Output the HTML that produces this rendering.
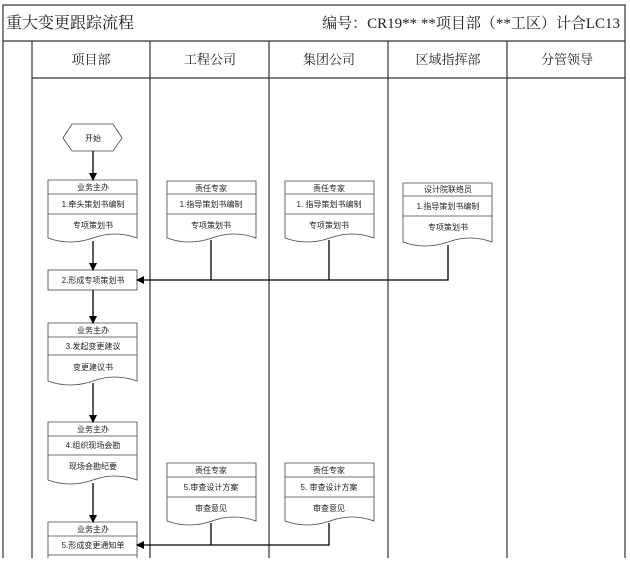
<!DOCTYPE html>
<html><head><meta charset="utf-8"><style>
html,body{margin:0;padding:0;background:#fff;}
svg text{font-family:"Liberation Serif","Noto Serif CJK SC",serif;fill:#222;}
.s{font-size:8px;text-anchor:middle;font-family:"Liberation Sans","Noto Sans CJK SC",sans-serif;}
</style></head><body>
<svg width="630" height="558" viewBox="0 0 630 558" xmlns="http://www.w3.org/2000/svg">
<defs><marker id="a" markerWidth="8" markerHeight="8" refX="7" refY="4" orient="auto" markerUnits="userSpaceOnUse"><path d="M0,0 L8,4 L0,8 z" fill="#000"/></marker></defs>
<g fill="none" stroke="#333" stroke-width="1.2">
<rect x="3" y="5" width="622" height="560"/>
<line x1="3" y1="41" x2="625" y2="41"/>
<line x1="32" y1="78" x2="625" y2="78"/>
<line x1="32" y1="41" x2="32" y2="558"/>
<line x1="150" y1="41" x2="150" y2="558"/>
<line x1="269" y1="41" x2="269" y2="558"/>
<line x1="388" y1="41" x2="388" y2="558"/>
<line x1="507" y1="41" x2="507" y2="558"/>
</g>
<text x="6" y="28" font-size="16">重大变更跟踪流程</text>
<text x="620" y="28" font-size="15" text-anchor="end">编号：CR19** **项目部（**工区）计合LC13</text>
<g font-size="13" text-anchor="middle">
<text x="91" y="64">项目部</text><text x="210" y="64">工程公司</text><text x="329" y="64">集团公司</text><text x="448" y="64">区域指挥部</text><text x="567" y="64">分管领导</text>
</g>
<g fill="#fff" stroke="#444" stroke-width="0.8">
<path d="M63,138 L72,124 L113,124 L122,138 L113,151 L72,151 z"/>
<!-- doc boxes -->
<path d="M48,180 H137 V238 Q115,230 93,238 Q70,246 48,238 z"/>
<line x1="48" y1="194" x2="137" y2="194"/><line x1="48" y1="214" x2="137" y2="214"/>
<path d="M167,181 H256 V238 Q234,230 212,238 Q189,246 167,238 z"/>
<line x1="167" y1="194" x2="256" y2="194"/><line x1="167" y1="214" x2="256" y2="214"/>
<path d="M285,181 H374 V238 Q352,230 330,238 Q307,246 285,238 z"/>
<line x1="285" y1="194" x2="374" y2="194"/><line x1="285" y1="214" x2="374" y2="214"/>
<path d="M403,183 H492 V242 Q470,234 448,242 Q425,250 403,242 z"/>
<line x1="403" y1="196" x2="492" y2="196"/><line x1="403" y1="216" x2="492" y2="216"/>
<rect x="48" y="270" width="89" height="20"/>
<path d="M48,323 H137 V381 Q115,373 93,381 Q70,389 48,381 z"/>
<line x1="48" y1="337" x2="137" y2="337"/><line x1="48" y1="355" x2="137" y2="355"/>
<path d="M48,422 H137 V480 Q115,472 93,480 Q70,488 48,480 z"/>
<line x1="48" y1="436" x2="137" y2="436"/><line x1="48" y1="455" x2="137" y2="455"/>
<path d="M167,463 H256 V521 Q234,513 212,521 Q189,529 167,521 z"/>
<line x1="167" y1="477" x2="256" y2="477"/><line x1="167" y1="497" x2="256" y2="497"/>
<path d="M285,463 H374 V521 Q352,513 330,521 Q307,529 285,521 z"/>
<line x1="285" y1="477" x2="374" y2="477"/><line x1="285" y1="497" x2="374" y2="497"/>
<path d="M48,522 H137 V560 H48 z"/>
<line x1="48" y1="536" x2="137" y2="536"/><line x1="48" y1="555" x2="137" y2="555"/>
</g>
<g stroke="#000" stroke-width="1.3" fill="none">
<line x1="93" y1="151" x2="93" y2="180" marker-end="url(#a)"/>
<line x1="93" y1="241" x2="93" y2="270" marker-end="url(#a)"/>
<line x1="93" y1="290" x2="93" y2="323" marker-end="url(#a)"/>
<line x1="93" y1="383" x2="93" y2="422" marker-end="url(#a)"/>
<line x1="93" y1="483" x2="93" y2="522" marker-end="url(#a)"/>
<polyline points="211,240 211,280"/><polyline points="329,240 329,280"/>
<polyline points="448,245 448,280 137,280" marker-end="url(#a)"/>
<polyline points="211,523 211,545"/>
<polyline points="329,523 329,545 137,545" marker-end="url(#a)"/>
</g>
<g class="s">
<text class="s" x="93" y="141">开始</text>
<text class="s" x="93" y="190">业务主办</text><text class="s" x="93" y="207">1.牵头策划书编制</text><text class="s" x="93" y="228">专项策划书</text>
<text class="s" x="211" y="191">责任专家</text><text class="s" x="211" y="207">1.指导策划书编制</text><text class="s" x="211" y="228">专项策划书</text>
<text class="s" x="329" y="191">责任专家</text><text class="s" x="329" y="207">1. 指导策划书编制</text><text class="s" x="329" y="228">专项策划书</text>
<text class="s" x="448" y="192">设计院联络员</text><text class="s" x="448" y="209">1.指导策划书编制</text><text class="s" x="448" y="230">专项策划书</text>
<text class="s" x="93" y="283">2.形成专项策划书</text>
<text class="s" x="93" y="333">业务主办</text><text class="s" x="93" y="349">3.发起变更建议</text><text class="s" x="93" y="370">变更建议书</text>
<text class="s" x="93" y="432">业务主办</text><text class="s" x="93" y="448">4.组织现场会勘</text><text class="s" x="93" y="469">现场会勘纪要</text>
<text class="s" x="211" y="473">责任专家</text><text class="s" x="211" y="490">5.审查设计方案</text><text class="s" x="211" y="511">审查意见</text>
<text class="s" x="329" y="473">责任专家</text><text class="s" x="329" y="490">5. 审查设计方案</text><text class="s" x="329" y="511">审查意见</text>
<text class="s" x="93" y="532">业务主办</text><text class="s" x="93" y="548">5.形成变更通知单</text>
</g>
</svg>
</body></html>
